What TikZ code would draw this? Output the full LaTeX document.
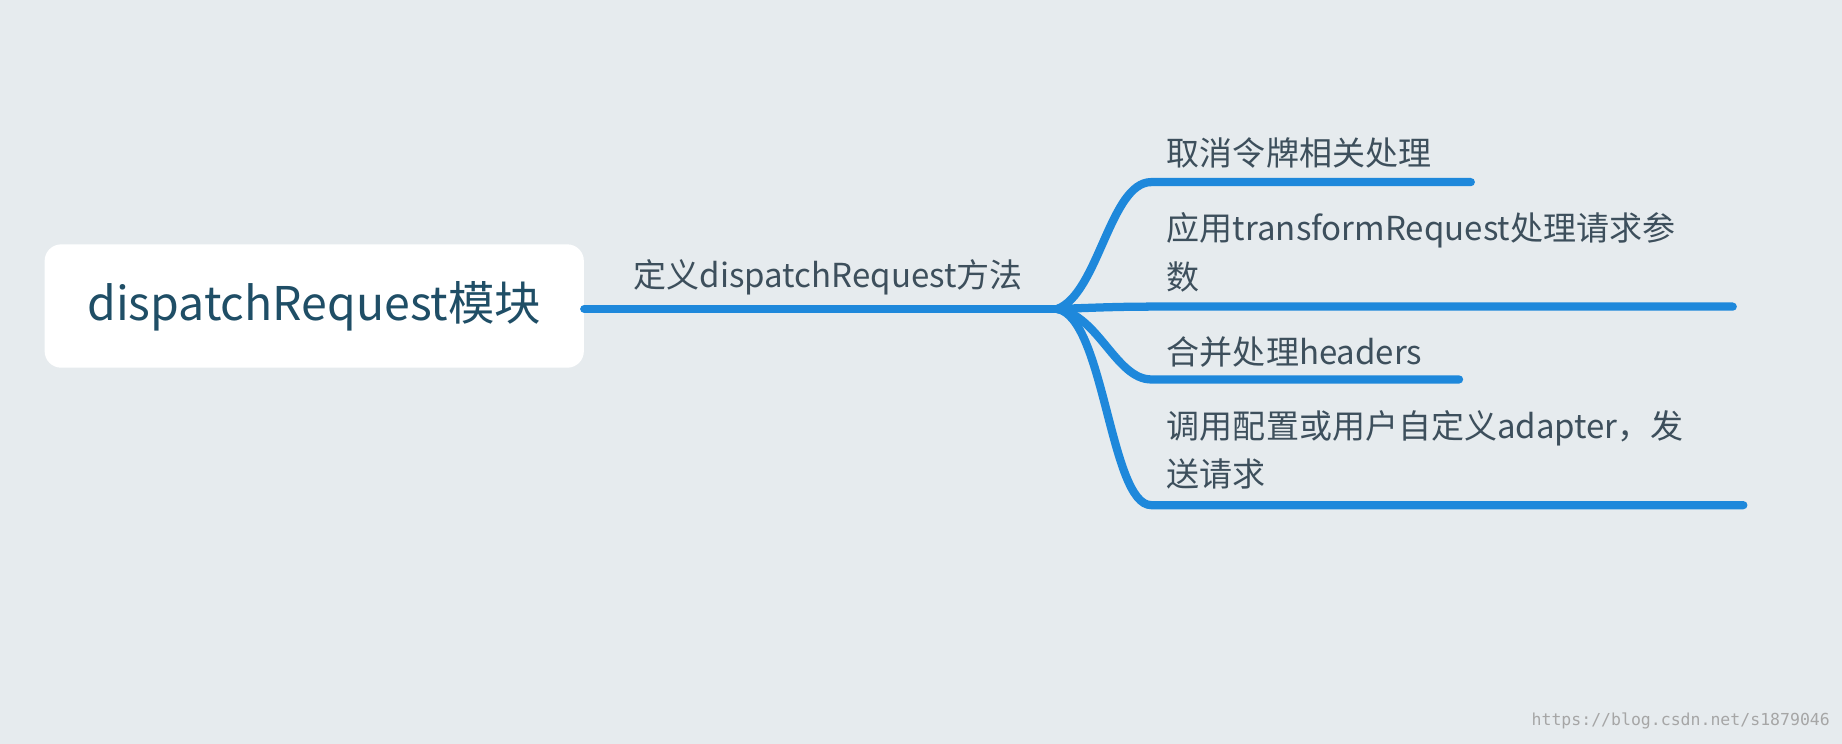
\documentclass[tikz,border=0pt]{standalone}
\usepackage{fontspec}
\setmainfont{Noto Sans CJK SC}
\setmonofont{DejaVu Sans Mono}
\definecolor{bg}{HTML}{E6EBEE}
\definecolor{br}{HTML}{1E88DB}
\definecolor{tx}{HTML}{3D4F5C}
\definecolor{mt}{HTML}{1F4E66}
\begin{document}
\begin{tikzpicture}[x=0.02cm,y=-0.02cm,
  brline/.style={draw=br,line width=4pt,line cap=round},
  leaf/.style={anchor=west,text=tx,font=\fontsize{16}{23.5}\selectfont,inner sep=0pt,align=left}]
\fill[bg] (0,0) rectangle (1568,633);
\useasboundingbox (0,0) rectangle (1568,633);
\node[fill=white,rounded corners=8pt,minimum width=459*0.02cm,minimum height=105*0.02cm,text=mt,font=\fontsize{22.5}{26}\selectfont] (root) at (267.5,260.5) {dispatchRequest模块};
\coordinate (hub) at (900,263);
\draw[brline] (root.east |- hub) -- (hub);
\node[anchor=south,text=tx,font=\fontsize{16}{18}\selectfont,inner sep=2pt] (lab) at (705,255) {定义dispatchRequest方法};
\coordinate (a1) at (980,155); \coordinate (e1) at (1252,155);
\coordinate (a2) at (980,261); \coordinate (e2) at (1475,261);
\coordinate (a3) at (980,323); \coordinate (e3) at (1242,323);
\coordinate (a4) at (980,430); \coordinate (e4) at (1484,430);
\draw[brline] (hub) .. controls (935,250) and (945,155) .. (a1) -- (e1);
\draw[brline] (hub) .. controls (930,262) and (950,261) .. (a2) -- (e2);
\draw[brline] (hub) .. controls (935,268) and (950,323) .. (a3) -- (e3);
\draw[brline] (hub) .. controls (940,270) and (945,430) .. (a4) -- (e4);
\node[leaf] (t1) at (993,130) {取消令牌相关处理};
\node[leaf] (t2) at (993,215) {应用transformRequest处理请求参\\数};
\node[leaf] (t3) at (993,300) {合并处理headers};
\node[leaf] (t4) at (993,383) {调用配置或用户自定义adapter，发\\送请求};
\node[anchor=east,text=gray!70,font=\ttfamily\fontsize{8}{10}\selectfont,inner sep=0pt] (wm) at (1558,614) {https://blog.csdn.net/s1879046};
\end{tikzpicture}
\end{document}
